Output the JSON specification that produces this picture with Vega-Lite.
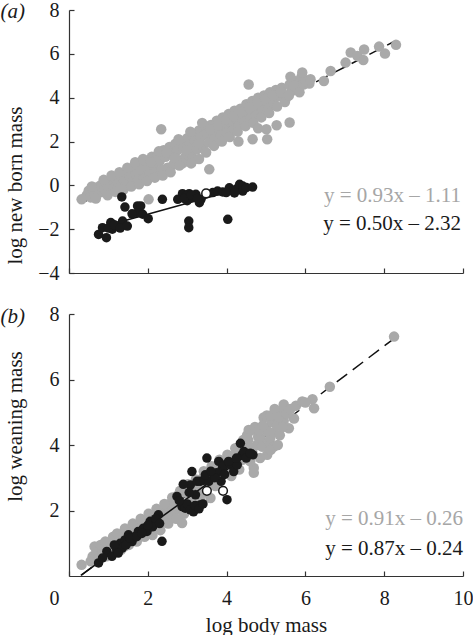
{
  "$schema": "https://vega.github.io/schema/vega-lite/v6.json",
  "usermeta": {"embedOptions": {"actions": false}},
  "padding": {"left": 0, "top": 0, "right": 0, "bottom": 0},
  "background": "white",
  "spacing": 21,
  "config": {
    "view": {"stroke": null},
    "font": "Liberation Serif",
    "axis": {
      "grid": false,
      "domainColor": "#333333",
      "tickColor": "#333333",
      "domainWidth": 1.2,
      "tickWidth": 1.2,
      "tickSize": -5,
      "labelFont": "Liberation Serif",
      "labelFontSize": 20,
      "labelColor": "#1a1a1a",
      "labelFlush": false,
      "titleFont": "Liberation Serif",
      "titleFontSize": 21,
      "titleFontWeight": "normal",
      "titleColor": "#1a1a1a"
    }
  },
  "datasets": {
    "topGray": [
      {"x":0.32,"y":-0.64},{"x":0.45,"y":-0.45},{"x":0.5,"y":-0.25},{"x":0.55,"y":-0.55},{"x":0.6,"y":-0.2},{"x":0.65,"y":-0.4},{"x":0.7,"y":-0.1},{"x":0.75,"y":-0.35},{"x":0.8,"y":0.0},{"x":0.85,"y":-0.3},{"x":0.9,"y":-0.15},{"x":0.95,"y":0.1},{"x":1.0,"y":-0.2},{"x":1.05,"y":0.2},{"x":1.1,"y":0.0},{"x":1.15,"y":-0.1},{"x":1.2,"y":0.3},{"x":1.25,"y":0.1},{"x":1.3,"y":-0.05},{"x":1.35,"y":0.4},{"x":1.4,"y":0.2},{"x":1.45,"y":0.05},{"x":1.5,"y":0.55},{"x":1.55,"y":0.3},{"x":1.6,"y":0.15},{"x":1.65,"y":0.85},{"x":1.7,"y":0.5},{"x":1.75,"y":0.25},{"x":1.8,"y":0.95},{"x":1.85,"y":0.7},{"x":1.9,"y":0.3},{"x":1.95,"y":1.1},{"x":2.0,"y":0.8},{"x":2.05,"y":0.5},{"x":2.1,"y":1.3},{"x":2.15,"y":0.95},{"x":2.2,"y":0.6},{"x":2.25,"y":1.35},{"x":2.3,"y":1.1},{"x":2.35,"y":0.7},{"x":2.4,"y":1.6},{"x":2.45,"y":1.3},{"x":2.5,"y":0.8},{"x":2.55,"y":1.75},{"x":2.6,"y":1.45},{"x":2.65,"y":0.95},{"x":2.7,"y":1.9},{"x":2.75,"y":1.6},{"x":2.8,"y":1.15},{"x":2.85,"y":2.0},{"x":2.9,"y":1.7},{"x":2.95,"y":1.3},{"x":3.0,"y":2.15},{"x":3.05,"y":1.85},{"x":3.1,"y":1.45},{"x":3.15,"y":2.3},{"x":3.2,"y":2.0},{"x":3.25,"y":1.65},{"x":3.3,"y":2.5},{"x":3.35,"y":2.2},{"x":3.4,"y":1.8},{"x":3.45,"y":2.7},{"x":3.5,"y":2.35},{"x":3.55,"y":1.95},{"x":3.6,"y":2.75},{"x":3.65,"y":2.45},{"x":3.7,"y":2.1},{"x":3.75,"y":2.95},{"x":3.8,"y":2.6},{"x":3.85,"y":2.25},{"x":3.9,"y":3.1},{"x":3.95,"y":2.75},{"x":4.0,"y":2.4},{"x":4.05,"y":3.25},{"x":4.1,"y":2.9},{"x":4.15,"y":2.5},{"x":4.2,"y":3.4},{"x":4.25,"y":3.05},{"x":4.3,"y":2.7},{"x":4.35,"y":3.5},{"x":4.4,"y":3.2},{"x":4.45,"y":2.9},{"x":4.5,"y":3.7},{"x":4.55,"y":3.35},{"x":4.6,"y":3.05},{"x":4.65,"y":3.85},{"x":4.7,"y":3.5},{"x":4.75,"y":3.2},{"x":4.8,"y":4.0},{"x":4.85,"y":3.65},{"x":4.9,"y":3.35},{"x":4.95,"y":4.1},{"x":5.0,"y":3.8},{"x":5.05,"y":3.5},{"x":5.1,"y":4.25},{"x":5.15,"y":3.95},{"x":5.2,"y":3.7},{"x":5.25,"y":4.35},{"x":5.3,"y":4.05},{"x":5.4,"y":4.45},{"x":5.45,"y":4.15},{"x":5.5,"y":3.95},{"x":5.6,"y":4.6},{"x":5.65,"y":4.3},{"x":5.75,"y":4.75},{"x":5.8,"y":4.4},{"x":5.9,"y":4.95},{"x":5.95,"y":4.6},{"x":6.1,"y":4.65},
      {"x":0.58,"y":-0.05},{"x":0.68,"y":-0.6},{"x":0.88,"y":0.25},{"x":0.98,"y":-0.45},{"x":1.08,"y":0.45},{"x":1.18,"y":-0.3},{"x":1.28,"y":0.6},{"x":1.38,"y":-0.2},{"x":1.48,"y":0.8},{"x":1.58,"y":-0.05},{"x":1.68,"y":1.05},{"x":1.78,"y":0.05},{"x":1.88,"y":1.2},{"x":1.98,"y":0.2},{"x":2.08,"y":1.05},{"x":2.18,"y":0.35},{"x":2.28,"y":1.55},{"x":2.38,"y":0.45},{"x":2.48,"y":1.5},{"x":2.58,"y":0.6},{"x":2.68,"y":1.25},{"x":2.78,"y":2.1},{"x":2.88,"y":1.0},{"x":2.98,"y":1.6},{"x":3.08,"y":2.45},{"x":3.18,"y":1.2},{"x":3.28,"y":1.9},{"x":3.38,"y":2.85},{"x":3.48,"y":1.5},{"x":3.58,"y":2.55},{"x":3.68,"y":1.8},{"x":3.78,"y":2.75},{"x":3.88,"y":2.0},{"x":3.98,"y":3.0},{"x":4.08,"y":2.2},{"x":4.18,"y":3.15},{"x":4.28,"y":2.45},{"x":4.38,"y":3.35},{"x":4.48,"y":2.7},{"x":4.58,"y":3.55},{"x":4.68,"y":2.85},{"x":4.78,"y":3.75},{"x":4.88,"y":3.1},{"x":4.98,"y":3.95},{"x":5.08,"y":3.3},{"x":5.18,"y":4.1},{"x":5.28,"y":3.6},{"x":5.38,"y":4.25},{"x":5.48,"y":3.8},{"x":5.58,"y":4.1},{"x":5.7,"y":4.55},{"x":5.85,"y":4.25},{"x":6.0,"y":4.8},
      {"x":4.56,"y":4.6},{"x":2.34,"y":2.56},{"x":3.56,"y":0.73},{"x":2.02,"y":-0.64},{"x":4.66,"y":2.1},{"x":5.03,"y":2.1},{"x":5.6,"y":2.87},{"x":5.27,"y":2.74},{"x":5.01,"y":2.56},{"x":4.8,"y":2.6},{"x":4.3,"y":2.0},{"x":3.3,"y":1.2},{"x":3.1,"y":1.0},{"x":2.8,"y":0.9},
      {"x":6.47,"y":4.76},{"x":6.64,"y":5.22},{"x":7.02,"y":5.6},{"x":7.15,"y":6.06},{"x":7.32,"y":5.9},{"x":7.49,"y":6.2},{"x":7.47,"y":5.72},{"x":7.87,"y":6.33},{"x":8.02,"y":6.01},{"x":8.3,"y":6.41},{"x":6.13,"y":4.84},{"x":5.92,"y":5.15},{"x":5.62,"y":4.96}
    ],
    "topBlack": [
      {"x":0.75,"y":-2.24},{"x":0.95,"y":-2.39},{"x":0.85,"y":-1.93},{"x":1.06,"y":-1.7},{"x":1.1,"y":-2.0},{"x":1.23,"y":-1.86},{"x":1.0,"y":-1.95},{"x":1.15,"y":-1.8},{"x":1.36,"y":-1.63},{"x":1.3,"y":-1.95},{"x":1.48,"y":-1.86},{"x":1.34,"y":-0.53},{"x":1.42,"y":-0.99},{"x":1.74,"y":-0.94},{"x":1.82,"y":-0.94},{"x":1.74,"y":-1.25},{"x":1.6,"y":-1.3},{"x":1.87,"y":-1.32},{"x":2.01,"y":-1.52},{"x":2.37,"y":-0.64},{"x":2.76,"y":-0.64},{"x":2.88,"y":-0.38},{"x":2.97,"y":-0.48},{"x":3.05,"y":-0.38},{"x":3.14,"y":-0.56},{"x":3.22,"y":-0.41},{"x":3.35,"y":-0.64},{"x":3.31,"y":-0.79},{"x":3.0,"y":-0.7},{"x":2.92,"y":-0.6},{"x":3.1,"y":-0.45},{"x":3.25,"y":-0.6},{"x":3.04,"y":-1.63},{"x":3.04,"y":-1.93},{"x":4.03,"y":-1.55},{"x":3.65,"y":-0.33},{"x":3.77,"y":-0.26},{"x":3.9,"y":-0.3},{"x":4.07,"y":-0.11},{"x":4.16,"y":-0.26},{"x":4.24,"y":-0.18},{"x":4.33,"y":0.05},{"x":4.41,"y":-0.03},{"x":4.41,"y":-0.26},{"x":4.5,"y":-0.1},{"x":4.66,"y":-0.08},{"x":3.99,"y":-0.33},{"x":4.2,"y":-0.35}
    ],
    "topOpen": [{"x":3.48,"y":-0.37}],
    "topDash": [{"x":0.41,"y":-0.73},{"x":8.24,"y":6.55}],
    "topSolid": [{"x":0.74,"y":-1.95},{"x":4.6,"y":-0.02}],
    "topEq": [
      {"x":9.95,"y":-0.49,"label":"y = 0.93x – 1.11","series":"gray"},
      {"x":9.95,"y":-1.78,"label":"y = 0.50x – 2.32","series":"black"}
    ],
    "topTag": [{"x":-1.74,"y":7.9,"label":"(a)"}],
    "botGray": [
      {"x":0.32,"y":0.34},{"x":0.6,"y":0.6},{"x":0.7,"y":0.75},{"x":0.75,"y":0.55},{"x":0.85,"y":0.7},{"x":0.9,"y":0.85},{"x":0.95,"y":0.6},{"x":1.0,"y":0.95},{"x":1.05,"y":0.75},{"x":1.1,"y":0.9},{"x":1.15,"y":1.05},{"x":1.2,"y":0.8},{"x":1.25,"y":1.15},{"x":1.3,"y":0.95},{"x":1.35,"y":1.2},{"x":1.4,"y":0.9},{"x":1.45,"y":1.3},{"x":1.5,"y":1.05},{"x":1.55,"y":1.35},{"x":1.6,"y":1.1},{"x":1.65,"y":1.45},{"x":1.7,"y":1.2},{"x":1.75,"y":1.55},{"x":1.8,"y":1.3},{"x":1.85,"y":1.6},{"x":1.9,"y":1.35},{"x":1.95,"y":1.7},{"x":2.0,"y":1.45},{"x":2.05,"y":1.75},{"x":2.1,"y":1.35},{"x":2.15,"y":1.85},{"x":2.2,"y":1.6},{"x":2.25,"y":1.95},{"x":2.3,"y":1.55},{"x":2.35,"y":2.0},{"x":2.4,"y":1.75},{"x":2.45,"y":2.1},{"x":2.5,"y":1.8},{"x":2.55,"y":2.2},{"x":2.6,"y":1.9},{"x":2.65,"y":2.3},{"x":2.7,"y":2.0},{"x":2.75,"y":2.45},{"x":2.8,"y":2.1},{"x":2.87,"y":1.62},{"x":2.9,"y":2.55},{"x":2.95,"y":2.2},{"x":3.0,"y":2.65},{"x":3.05,"y":2.3},{"x":3.1,"y":2.75},{"x":3.15,"y":2.45},{"x":3.2,"y":2.8},{"x":3.25,"y":2.5},{"x":3.3,"y":2.9},{"x":3.35,"y":2.6},{"x":3.4,"y":3.0},{"x":3.45,"y":2.55},{"x":3.5,"y":3.1},{"x":3.59,"y":2.38},{"x":3.6,"y":2.8},{"x":3.65,"y":3.2},{"x":3.7,"y":2.9},{"x":3.75,"y":3.3},{"x":3.8,"y":3.0},{"x":3.85,"y":3.4},{"x":3.9,"y":3.1},{"x":3.95,"y":3.45},{"x":4.0,"y":3.2},{"x":4.05,"y":3.55},{"x":4.1,"y":3.3},{"x":4.15,"y":3.65},{"x":4.2,"y":3.4},{"x":4.25,"y":3.75},{"x":4.3,"y":3.5},{"x":4.35,"y":3.85},{"x":4.4,"y":3.55},{"x":4.45,"y":4.0},{"x":4.5,"y":3.7},{"x":4.56,"y":4.46},{"x":4.55,"y":4.15},{"x":4.6,"y":3.9},{"x":4.65,"y":3.8},{"x":4.69,"y":3.3},{"x":4.69,"y":3.15},{"x":4.77,"y":4.51},{"x":4.77,"y":4.0},{"x":4.8,"y":4.25},{"x":4.86,"y":4.21},{"x":4.94,"y":4.84},{"x":4.9,"y":3.95},{"x":5.0,"y":4.5},{"x":5.03,"y":4.41},{"x":5.03,"y":3.7},{"x":5.08,"y":4.1},{"x":5.11,"y":4.21},{"x":5.2,"y":3.95},{"x":5.15,"y":4.7},{"x":5.2,"y":4.4},{"x":5.28,"y":4.61},{"x":5.37,"y":5.02},{"x":5.35,"y":4.3},{"x":5.45,"y":5.24},{"x":5.45,"y":4.75},{"x":5.58,"y":4.51},{"x":5.71,"y":4.81},{"x":5.76,"y":5.2},{"x":5.92,"y":5.33},{"x":6.18,"y":5.4},{"x":6.22,"y":5.12},{"x":6.62,"y":5.78},{"x":8.25,"y":7.31},
      {"x":0.55,"y":0.45},{"x":0.65,"y":0.9},{"x":0.8,"y":0.95},{"x":0.92,"y":1.05},{"x":1.02,"y":0.7},{"x":1.12,"y":1.2},{"x":1.22,"y":1.3},{"x":1.32,"y":0.8},{"x":1.42,"y":1.45},{"x":1.52,"y":0.95},{"x":1.62,"y":1.6},{"x":1.72,"y":1.05},{"x":1.82,"y":1.75},{"x":1.92,"y":1.2},{"x":2.02,"y":1.9},{"x":2.12,"y":1.25},{"x":2.22,"y":2.05},{"x":2.32,"y":1.4},{"x":2.42,"y":2.2},{"x":2.52,"y":1.6},{"x":2.62,"y":2.4},{"x":2.72,"y":1.75},{"x":2.82,"y":2.6},{"x":2.92,"y":1.9},{"x":3.02,"y":2.8},{"x":3.12,"y":2.1},{"x":3.22,"y":2.95},{"x":3.32,"y":2.35},{"x":3.42,"y":3.2},{"x":3.52,"y":2.7},{"x":3.62,"y":3.35},{"x":3.72,"y":2.75},{"x":3.82,"y":3.55},{"x":3.92,"y":3.25},{"x":4.02,"y":3.7},{"x":4.12,"y":3.05},{"x":4.22,"y":3.9},{"x":4.32,"y":3.25},{"x":4.42,"y":4.15},{"x":4.52,"y":4.3},{"x":4.62,"y":4.45},{"x":4.72,"y":4.55},{"x":4.82,"y":4.45},{"x":4.92,"y":4.6},{"x":5.02,"y":4.9},{"x":5.12,"y":4.9},{"x":5.22,"y":5.1},{"x":5.32,"y":4.85},{"x":5.42,"y":4.55},{"x":5.52,"y":4.95},{"x":5.62,"y":5.1},{"x":5.12,"y":3.85},{"x":5.3,"y":4.0},{"x":4.85,"y":3.6},{"x":4.6,"y":3.5},{"x":6.0,"y":5.3}
    ],
    "botBlack": [
      {"x":0.75,"y":0.4},{"x":0.96,"y":0.75},{"x":1.09,"y":0.6},{"x":1.21,"y":0.8},{"x":1.3,"y":1.0},{"x":1.42,"y":1.1},{"x":1.35,"y":0.85},{"x":1.51,"y":1.26},{"x":1.6,"y":1.05},{"x":1.68,"y":1.21},{"x":1.76,"y":1.36},{"x":1.89,"y":1.46},{"x":1.98,"y":1.36},{"x":2.06,"y":1.67},{"x":2.12,"y":1.5},{"x":2.27,"y":1.87},{"x":2.36,"y":1.06},{"x":2.74,"y":2.43},{"x":2.87,"y":2.12},{"x":2.95,"y":2.07},{"x":3.0,"y":2.2},{"x":3.08,"y":2.02},{"x":3.16,"y":1.96},{"x":3.33,"y":2.17},{"x":3.08,"y":2.78},{"x":3.12,"y":3.19},{"x":3.21,"y":2.48},{"x":3.25,"y":2.89},{"x":3.33,"y":2.89},{"x":3.5,"y":3.6},{"x":3.42,"y":2.92},{"x":3.55,"y":2.89},{"x":3.67,"y":3.09},{"x":3.8,"y":3.5},{"x":3.86,"y":2.89},{"x":3.89,"y":3.29},{"x":3.93,"y":3.39},{"x":4.01,"y":2.33},{"x":4.1,"y":3.39},{"x":4.18,"y":3.19},{"x":4.27,"y":3.39},{"x":4.35,"y":4.05},{"x":4.39,"y":3.7},{"x":4.44,"y":3.8},{"x":4.67,"y":3.7},{"x":3.46,"y":3.09},{"x":3.75,"y":3.15},{"x":3.7,"y":3.0},
      {"x":0.85,"y":0.55},{"x":1.15,"y":0.95},{"x":1.25,"y":0.7},{"x":1.45,"y":0.95},{"x":1.55,"y":1.15},{"x":1.72,"y":1.2},{"x":1.85,"y":1.3},{"x":2.0,"y":1.55},{"x":2.2,"y":1.75},{"x":2.3,"y":1.6},{"x":2.8,"y":2.3},{"x":2.9,"y":2.8},{"x":3.05,"y":2.55},{"x":3.2,"y":2.15},{"x":3.3,"y":2.05},{"x":3.4,"y":2.2},{"x":3.6,"y":3.2},{"x":3.95,"y":3.1},{"x":4.05,"y":3.5},{"x":4.25,"y":3.6},{"x":4.5,"y":3.6},{"x":4.6,"y":3.75}
    ],
    "botOpen": [{"x":3.5,"y":2.6},{"x":3.91,"y":2.6}],
    "botDash": [{"x":0.32,"y":0.03},{"x":8.25,"y":7.25}],
    "botSolid": [{"x":0.3,"y":0.02},{"x":4.7,"y":3.85}],
    "botEq": [
      {"x":10.0,"y":1.74,"label":"y = 0.91x – 0.26","series":"gray"},
      {"x":10.0,"y":0.82,"label":"y = 0.87x – 0.24","series":"black"}
    ],
    "botTag": [{"x":-1.74,"y":7.91,"label":"(b)"}]
  },
  "vconcat": [
    {
      "width": 394,
      "height": 263,
      "encoding": {
        "x": {"field": "x", "type": "quantitative", "scale": {"domain": [0, 10], "nice": false, "zero": false},
          "axis": {"values": [0, 2, 4, 6, 8, 10], "labels": false, "title": null}},
        "y": {"field": "y", "type": "quantitative", "scale": {"domain": [-4, 8], "nice": false, "zero": false},
          "axis": {"values": [-4, -2, 0, 2, 4, 6, 8], "title": "log new born mass", "labelFontSize": 20, "titleFontSize": 21, "labelPadding": 15,
            "titleX": -44, "titleY": 175, "titleAlign": "center", "titleBaseline": "bottom", "titleAngle": 270}}
      },
      "layer": [
        {"data": {"name": "topDash"}, "mark": {"type": "line", "color": "#111111", "strokeWidth": 1.5, "strokeDash": [13, 7]}},
        {"data": {"name": "topGray"}, "mark": {"type": "circle", "color": "#a9a9a9", "opacity": 1, "size": 110}},
        {"data": {"name": "topSolid"}, "mark": {"type": "line", "color": "#111111", "strokeWidth": 1.5}},
        {"data": {"name": "topBlack"}, "mark": {"type": "circle", "color": "#1a1a1a", "opacity": 1, "size": 90}},
        {"data": {"name": "topOpen"}, "mark": {"type": "point", "shape": "circle", "filled": true, "fill": "white", "stroke": "#1a1a1a", "strokeWidth": 1.5, "opacity": 1, "size": 75}},
        {"data": {"name": "topEq"}, "mark": {"type": "text", "align": "right", "baseline": "middle", "font": "Liberation Serif", "fontSize": 21},
          "encoding": {"text": {"field": "label"}, "color": {"field": "series", "type": "nominal", "scale": {"domain": ["gray", "black"], "range": ["#a6a6a6", "#1a1a1a"]}, "legend": null}}},
        {"data": {"name": "topTag"}, "mark": {"type": "text", "align": "left", "baseline": "middle", "font": "Liberation Serif", "fontSize": 21, "fontStyle": "italic", "color": "#1a1a1a"},
          "encoding": {"text": {"field": "label"}}}
      ]
    },
    {
      "width": 394,
      "height": 262,
      "encoding": {
        "x": {"field": "x", "type": "quantitative", "scale": {"domain": [0, 10], "nice": false, "zero": false},
          "axis": {"values": [0, 2, 4, 6, 8, 10], "title": "log body mass", "labelFontSize": 20, "titleFontSize": 21, "labelPadding": 17, "titlePadding": 6, "labelFlush": false,
            "labelAlign": {"condition": {"test": "datum.value === 0", "value": "right"}, "value": "center"},
            "labelOffset": {"condition": {"test": "datum.value === 0", "value": -10}, "value": 0}}},
        "y": {"field": "y", "type": "quantitative", "scale": {"domain": [0, 8], "nice": false, "zero": false},
          "axis": {"values": [2, 4, 6, 8], "title": "log weaning mass", "labelFontSize": 20, "titleFontSize": 21, "labelPadding": 15,
            "titleX": -44, "titleY": 112, "titleAlign": "center", "titleBaseline": "bottom", "titleAngle": 270}}
      },
      "layer": [
        {"data": {"name": "botDash"}, "mark": {"type": "line", "color": "#111111", "strokeWidth": 1.5, "strokeDash": [13, 7]}},
        {"data": {"name": "botGray"}, "mark": {"type": "circle", "color": "#a9a9a9", "opacity": 1, "size": 110}},
        {"data": {"name": "botSolid"}, "mark": {"type": "line", "color": "#111111", "strokeWidth": 1.5}},
        {"data": {"name": "botBlack"}, "mark": {"type": "circle", "color": "#1a1a1a", "opacity": 1, "size": 90}},
        {"data": {"name": "botOpen"}, "mark": {"type": "point", "shape": "circle", "filled": true, "fill": "white", "stroke": "#1a1a1a", "strokeWidth": 1.5, "opacity": 1, "size": 75}},
        {"data": {"name": "botEq"}, "mark": {"type": "text", "align": "right", "baseline": "middle", "font": "Liberation Serif", "fontSize": 21},
          "encoding": {"text": {"field": "label"}, "color": {"field": "series", "type": "nominal", "scale": {"domain": ["gray", "black"], "range": ["#a6a6a6", "#1a1a1a"]}, "legend": null}}},
        {"data": {"name": "botTag"}, "mark": {"type": "text", "align": "left", "baseline": "middle", "font": "Liberation Serif", "fontSize": 21, "fontStyle": "italic", "color": "#1a1a1a"},
          "encoding": {"text": {"field": "label"}}}
      ]
    }
  ]
}
